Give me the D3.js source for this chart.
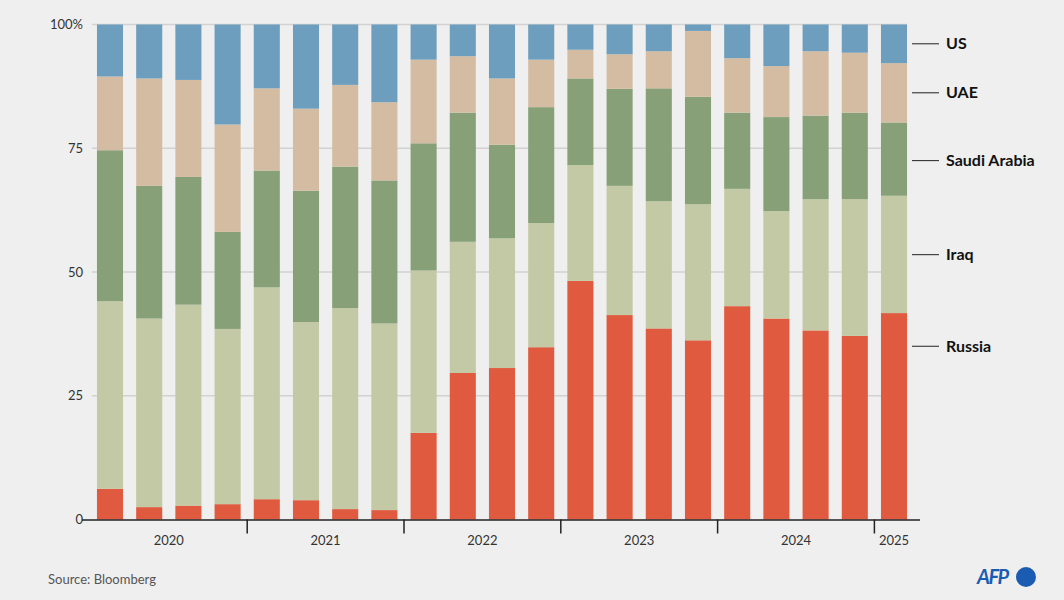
<!DOCTYPE html>
<html>
<head>
<meta charset="utf-8">
<script src="https://cdn.jsdelivr.net/npm/d3@7"></script>
<style>
  body { margin: 0; background: #efefef; }
  text { font-family: "Source Sans Pro", Lato, sans-serif; }
</style>
</head>
<body>
<script>
var width = 1064,
    height = 600;

// quarters, 2020 Q1 .. 2025 Q1
var quarters = ["2020Q1","2020Q2","2020Q3","2020Q4",
                "2021Q1","2021Q2","2021Q3","2021Q4",
                "2022Q1","2022Q2","2022Q3","2022Q4",
                "2023Q1","2023Q2","2023Q3","2023Q4",
                "2024Q1","2024Q2","2024Q3","2024Q4",
                "2025Q1"];

var years = ["2020", "2021", "2022", "2023", "2024", "2025"];

// share of supply, %
var russia = [6.2, 2.5, 2.8, 3.1, 4.1, 3.9, 2.1, 1.9, 17.5, 29.6, 30.6, 34.8, 48.2, 41.3, 38.6, 36.2, 43.1, 40.6, 38.2, 37.1, 41.7];
var iraq   = [37.9, 38.1, 40.6, 35.4, 42.8, 36.0, 40.6, 37.7, 32.8, 26.5, 26.2, 25.1, 23.4, 26.1, 25.7, 27.5, 23.7, 21.7, 26.5, 27.6, 23.7];
var saudi  = [30.5, 26.8, 25.8, 19.6, 23.6, 26.5, 28.6, 28.9, 25.7, 26.1, 18.9, 23.4, 17.5, 19.6, 22.8, 21.7, 15.4, 19.0, 16.9, 17.5, 14.8];
var uae    = [14.9, 21.7, 19.6, 21.7, 16.6, 16.6, 16.5, 15.8, 16.9, 11.4, 13.4, 9.6, 5.8, 7.0, 7.5, 13.3, 11.0, 10.3, 13.0, 12.1, 12.0];
var us     = [10.5, 10.9, 11.2, 20.2, 12.9, 17.0, 12.2, 15.7, 7.1, 6.4, 10.9, 7.1, 5.1, 6.0, 5.4, 1.3, 6.8, 8.4, 5.4, 5.7, 7.8];

var countries = ["Russia", "Iraq", "Saudi Arabia", "UAE", "US"];
var colors = ["#e05a3f", "#c3c9a4", "#87a078", "#d3bca2", "#6d9ebe"];
// where the right-hand labels sit, in % units
var labelAt = [35, 53.5, 72.5, 86.2, 96.1];

var yTicks = [0, 25, 50, 75, 100];

var rows = quarters.map(function(q, i) {
  return {q: q, "Russia": russia[i], "Iraq": iraq[i], "Saudi Arabia": saudi[i], "UAE": uae[i], "US": us[i]};
});

var svg = d3.select("body").append("svg")
    .attr("width", width)
    .attr("height", height);

svg.append("rect")
    .attr("width", width)
    .attr("height", height)
    .attr("fill", "#efefef");

var x = d3.scaleBand()
    .domain(quarters)
    .range([90.4, 913.6])
    .paddingInner(0.335)
    .paddingOuter(0.1675);

var y = d3.scaleLinear()
    .domain([0, 100])
    .range([519.5, 24.5]);

// gridlines
svg.append("g")
  .selectAll("line")
  .data(yTicks.slice(1))
  .enter().append("line")
    .attr("x1", 92)
    .attr("x2", 907)
    .attr("y1", function(d) { return y(d); })
    .attr("y2", function(d) { return y(d); })
    .attr("stroke", "#d2d2d2")
    .attr("stroke-width", 1.5);

// y labels
svg.append("g")
  .selectAll("text")
  .data(yTicks)
  .enter().append("text")
    .attr("x", 83)
    .attr("y", function(d) { return y(d); })
    .attr("dy", "0.35em")
    .attr("text-anchor", "end")
    .attr("font-size", 13)
    .attr("fill", "#333")
    .text(function(d) { return d === 100 ? "100%" : d; });

var stack = d3.stack().keys(countries);
var series = stack(rows);

svg.append("g")
  .selectAll("g")
  .data(series)
  .enter().append("g")
    .attr("fill", function(d, i) { return colors[i]; })
  .selectAll("rect")
  .data(function(d) { return d; })
  .enter().append("rect")
    .attr("x", function(d) { return x(d.data.q); })
    .attr("width", x.bandwidth())
    .attr("y", function(d) { return y(d[1]); })
    .attr("height", function(d) { return y(d[0]) - y(d[1]); });

// baseline
svg.append("line")
    .attr("x1", 82)
    .attr("x2", 920)
    .attr("y1", y(0) + 0.5)
    .attr("y2", y(0) + 0.5)
    .attr("stroke", "#222")
    .attr("stroke-width", 1.5);

// year separators and labels
var step = x.step();
var seps = ["2021Q1", "2022Q1", "2023Q1", "2024Q1", "2025Q1"];
svg.append("g")
  .selectAll("line")
  .data(seps)
  .enter().append("line")
    .attr("x1", function(d) { return x(d) - (step - x.bandwidth()) / 2; })
    .attr("x2", function(d) { return x(d) - (step - x.bandwidth()) / 2; })
    .attr("y1", y(0))
    .attr("y2", y(0) + 14)
    .attr("stroke", "#222")
    .attr("stroke-width", 1.5);

svg.append("g")
  .selectAll("text")
  .data(years)
  .enter().append("text")
    .attr("x", function(yr) {
      var qs = quarters.filter(function(q) { return q.slice(0, 4) === yr; });
      var a = x(qs[0]), b = x(qs[qs.length - 1]) + x.bandwidth();
      return (a + b) / 2;
    })
    .attr("y", 545)
    .attr("text-anchor", "middle")
    .attr("font-size", 13)
    .attr("fill", "#333")
    .text(function(d) { return d; });

// right-hand labels
var lab = svg.append("g")
  .selectAll("g")
  .data(countries)
  .enter().append("g")
    .attr("transform", function(d, i) { return "translate(0," + y(labelAt[i]) + ")"; });

lab.append("line")
    .attr("x1", 912)
    .attr("x2", 939)
    .attr("stroke", "#222")
    .attr("stroke-width", 1);

lab.append("text")
    .attr("x", 946)
    .attr("dy", "0.35em")
    .attr("font-size", 16)
    .attr("font-weight", "bold")
    .attr("fill", "#111")
    .text(function(d) { return d; });

// footer
svg.append("text")
    .attr("x", 48)
    .attr("y", 584)
    .attr("font-size", 13)
    .attr("fill", "#555")
    .text("Source: Bloomberg");

svg.append("text")
    .attr("x", 977)
    .attr("y", 584)
    .attr("font-size", 20)
    .attr("font-weight", "bold")
    .attr("font-style", "italic")
    .attr("letter-spacing", -1.5)
    .attr("fill", "#1b5cb3")
    .text("AFP");

svg.append("circle")
    .attr("cx", 1026)
    .attr("cy", 577)
    .attr("r", 10)
    .attr("fill", "#1b5cb3");
</script>
</body>
</html>
